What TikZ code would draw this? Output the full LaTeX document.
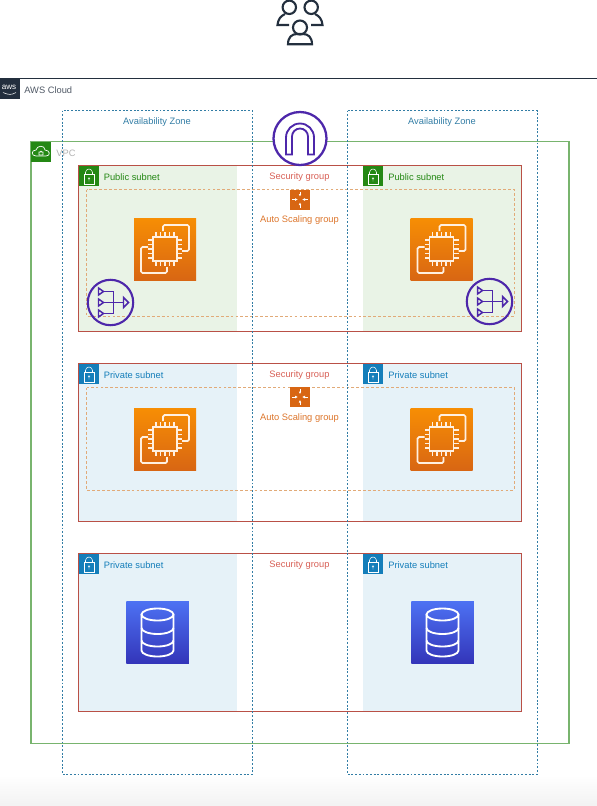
\documentclass[tikz,border=0pt]{standalone}
\usepackage{fontspec}
\setmainfont{Liberation Sans}
\usepackage{xcolor}
\usetikzlibrary{arrows.meta}
\definecolor{awsdark}{RGB}{35,47,62}
\definecolor{azblue}{RGB}{50,125,165}
\definecolor{vpcgreen}{RGB}{120,180,110}
\definecolor{pubgreen}{RGB}{36,136,20}
\definecolor{pubfill}{RGB}{233,243,230}
\definecolor{privblue}{RGB}{20,126,186}
\definecolor{privfill}{RGB}{230,242,248}
\definecolor{sgred}{RGB}{185,80,70}
\definecolor{sglabel}{RGB}{215,95,85}
\definecolor{asgorange}{RGB}{216,102,19}
\definecolor{asgdash}{RGB}{225,170,120}
\definecolor{netpurple}{RGB}{77,39,170}
\definecolor{ectop}{RGB}{247,142,4}
\definecolor{chipline}{RGB}{255,240,225}
\definecolor{dbtop}{RGB}{77,114,243}
\definecolor{dbbottom}{RGB}{51,52,185}

\begin{document}
\begin{tikzpicture}[x=0.2mm,y=-0.2mm,
  lbl/.style={inner sep=0pt,yshift=-0.7pt,font=\fontsize{5.3}{7}\selectfont},
  lblleft/.style={lbl,anchor=west},
  azbox/.style={azblue,dash pattern=on 1.1pt off 1pt,line width=0.55pt},
  sgbox/.style={sgred,line width=0.6pt},
  asgbox/.style={asgdash,dash pattern=on 1.6pt off 1.2pt,line width=0.55pt},
  badge/.style={inner sep=0pt,minimum size=4mm},
  ectwo/.style={inner sep=0pt,minimum size=12.4mm,top color=ectop,bottom color=asgorange},
  rdsbox/.style={inner sep=0pt,minimum size=12.5mm,top color=dbtop,bottom color=dbbottom},
  scalebox/.style={inner sep=0pt,minimum size=4mm,fill=asgorange},
  chip/.pic={
    \draw[chipline,line width=1pt] (-12,-12) rectangle (12,12);
    \foreach \p in {-9,-4.5,0,4.5,9} {
      \draw[chipline,line width=0.7pt] (\p,-12) -- (\p,-17) (\p,12) -- (\p,17) (-12,\p) -- (-17,\p) (12,\p) -- (17,\p);
    }
    \draw[chipline,line width=1pt,rounded corners=0.3mm] (-2,-18) -- (-2,-24) -- (24,-24) -- (24,2) -- (17,2);
    \draw[chipline,line width=1pt,rounded corners=0.3mm] (-17,-2) -- (-24,-2) -- (-24,24) -- (2,24) -- (2,18);
  },
  dbstack/.pic={
    \draw[white,line width=1.05pt] (0,-18) ellipse [x radius=16,y radius=6];
    \draw[white,line width=1.05pt] (-16,-18) -- (-16,18) arc [start angle=180,end angle=0,x radius=16,y radius=6] -- (16,-18);
    \draw[white,line width=1.05pt] (-16,-4.5) arc [start angle=180,end angle=0,x radius=16,y radius=6];
    \draw[white,line width=1.05pt] (-16,8) arc [start angle=180,end angle=0,x radius=16,y radius=6];
  },
  lockicon/.pic={
    \draw[white,line width=0.3pt] (-5,-1.5) rectangle (5,8);
    \draw[white,line width=0.3pt] (-3.5,-1.5) -- (-3.5,-3.5) arc [start angle=180,end angle=360,radius=3.5] -- (3.5,-1.5);
    \draw[white,line width=0.25pt] (0,2.5) circle [radius=0.9] (0,3.4) -- (0,5.5);
  },
  cloudicon/.pic={
    \draw[white,line width=0.4pt] (-5,4) .. controls (-10,4) and (-10,-2) .. (-5,-2) .. controls (-4,-7) and (4,-7) .. (4,-2) .. controls (9,-2) and (10,4) .. (5,4) -- cycle;
    \draw[white,line width=0.3pt] (-2,0) rectangle (2,3) (-1,0) arc [start angle=180,end angle=360,radius=1];
  },
  scalearrows/.pic={
    \draw[white,line width=0.35pt,-{Latex[length=0.6mm,width=0.6mm]}] (-8,0) -- (-2,0);
    \draw[white,line width=0.35pt,-{Latex[length=0.6mm,width=0.6mm]}] (8,0) -- (2,0);
    \draw[white,line width=0.35pt,-{Latex[length=0.5mm,width=0.5mm]}] (0,-8) -- (0,-3);
    \draw[white,line width=0.35pt,-{Latex[length=0.5mm,width=0.5mm]}] (0,8) -- (0,3);
  },
  lbicon/.pic={
    \draw[netpurple,line width=1.2pt] (0,0) circle [radius=22.7];
    \draw[netpurple,line width=0.9pt] (-7,-11) -- (3,-11) -- (3,11) -- (-7,11) (-7,0) -- (13,0);
    \draw[netpurple,line width=0.85pt] (-12,-14.5) -- (-7,-11) -- (-12,-7.5) -- cycle (-12,-3.5) -- (-7,0) -- (-12,3.5) -- cycle (-12,7.5) -- (-7,11) -- (-12,14.5) -- cycle (13,-5) -- (18,0) -- (13,5) -- cycle;
  },
  archicon/.pic={
    \draw[netpurple,line width=1.3pt,fill=white] (0,0) circle [radius=26.5];
    \draw[netpurple,line width=1.05pt] (-14,16) -- (-14,-1) arc [start angle=180,end angle=360,radius=14] -- (14,16) -- (8,16) -- (8,-2) arc [start angle=360,end angle=180,radius=8] -- (-8,16) -- cycle;
  },
  usericon/.pic={
    \draw[awsdark,line width=1.2pt] (-10.7,-14.7) circle [radius=6.7] (11.2,-14.7) circle [radius=6.7] (0,5.5) circle [radius=7];
    \draw[awsdark,line width=1.2pt] (-12,22.3) -- (12,22.3) .. controls (12,15) and (8,12) .. (3,12) -- (-3,12) .. controls (-8,12) and (-12,15) .. (-12,22.3) -- cycle;
    \draw[awsdark,line width=1.2pt] (-15,-8) .. controls (-19,-6) and (-22,-3) .. (-22.5,3) -- (-11,3);
    \draw[awsdark,line width=1.2pt] (15,-8) .. controls (19,-6) and (22,-3) .. (22.5,3) -- (11,3);
  }]
  \useasboundingbox (0,0) rectangle (597,806);
  \shade[top color=white,bottom color=black!5] (0,775) rectangle (597,806);

  % cloud frame
  \draw[awsdark,line width=0.6pt] (0,78.5) -- (597,78.5);
  \node[badge,fill=awsdark] (awsbadge) at (9.5,88.5) {};
  \node[lbl,white,font=\fontsize{4.6}{5}\selectfont] (awstext) at (9,86) {aws};
  \draw[white,line width=0.3pt] (3,92.5) .. controls (8,95) and (12,95) .. (16,92.5);
  \node[lblleft,awsdark!80] (cloudlabel) at (24,88.5) {AWS Cloud};

  % vpc
  \draw[vpcgreen,line width=0.75pt] (31,141.5) rectangle (569,743.5);
  \node[badge,fill=pubgreen] (vpcbadge) at (41,152) {};
  \pic at (vpcbadge) {cloudicon};
  \node[lblleft,black!30] (vpclabel) at (56,152) {VPC};

  % subnet fills
  \fill[pubfill] (79,166) rectangle (237,331);
  \fill[pubfill] (363,166) rectangle (521,331);
  \fill[privfill] (79,364) rectangle (237,521);
  \fill[privfill] (363,364) rectangle (521,521);
  \fill[privfill] (79,554) rectangle (237,711);
  \fill[privfill] (363,554) rectangle (521,711);

  % security groups
  \draw[sgbox] (78.5,165.5) rectangle (521.5,331.5);
  \draw[sgbox] (78.5,363.5) rectangle (521.5,521.5);
  \draw[sgbox] (78.5,553.5) rectangle (521.5,711.5);
  \node[lbl,sglabel] (sgone) at (299.5,176) {Security group};
  \node[lbl,sglabel] (sgtwo) at (299.5,374) {Security group};
  \node[lbl,sglabel] (sgthree) at (299.5,564) {Security group};

  % auto scaling
  \draw[asgbox] (86.5,189.5) rectangle (514,316);
  \draw[asgbox] (86.5,387.5) rectangle (514,490);
  \node[scalebox] (scaleone) at (300,199.5) {};
  \node[scalebox] (scaletwo) at (300,397) {};
  \pic at (scaleone) {scalearrows};
  \pic at (scaletwo) {scalearrows};
  \node[lbl,asgorange!90] (asgone) at (299.5,219) {Auto Scaling group};
  \node[lbl,asgorange!90] (asgtwo) at (299.5,417) {Auto Scaling group};

  % subnet headers
  \node[badge,fill=pubgreen] (puba) at (89,176) {};
  \node[badge,fill=pubgreen] (pubb) at (373,176) {};
  \node[badge,fill=privblue] (priva) at (89,374) {};
  \node[badge,fill=privblue] (privb) at (373,374) {};
  \node[badge,fill=privblue] (privc) at (89,564) {};
  \node[badge,fill=privblue] (privd) at (373,564) {};
  \pic at (puba) {lockicon};
  \pic at (pubb) {lockicon};
  \pic at (priva) {lockicon};
  \pic at (privb) {lockicon};
  \pic at (privc) {lockicon};
  \pic at (privd) {lockicon};
  \node[lblleft,pubgreen] (pubalabel) at (103.5,176) {Public subnet};
  \node[lblleft,pubgreen] (pubblabel) at (388,176) {Public subnet};
  \node[lblleft,privblue] (privalabel) at (103.5,374) {Private subnet};
  \node[lblleft,privblue] (privblabel) at (388,374) {Private subnet};
  \node[lblleft,privblue] (privclabel) at (103.5,564) {Private subnet};
  \node[lblleft,privblue] (privdlabel) at (388,564) {Private subnet};

  % instances
  \node[ectwo] (ecta) at (165,249) {};
  \node[ectwo] (ectb) at (441.5,249) {};
  \node[ectwo] (ectc) at (165,439) {};
  \node[ectwo] (ectd) at (441.5,439) {};
  \pic at (ecta) {chip};
  \pic at (ectb) {chip};
  \pic at (ectc) {chip};
  \pic at (ectd) {chip};

  % databases
  \node[rdsbox] (dba) at (157.5,632.5) {};
  \node[rdsbox] (dbb) at (442.5,632.5) {};
  \pic at (dba) {dbstack};
  \pic at (dbb) {dbstack};

  % availability zones
  \draw[azbox] (62.5,110.5) rectangle (252.5,774.5);
  \draw[azbox] (347.5,110.5) rectangle (537,774.5);
  \node[lbl,azblue] (azone) at (157,120.5) {Availability Zone};
  \node[lbl,azblue] (aztwo) at (442,120.5) {Availability Zone};

  % gateways
  \pic at (300,138.5) {archicon};
  \pic at (110.5,302.5) {lbicon};
  \pic at (489.5,301.5) {lbicon};
  \pic at (300,22) {usericon};
\end{tikzpicture}
\end{document}
